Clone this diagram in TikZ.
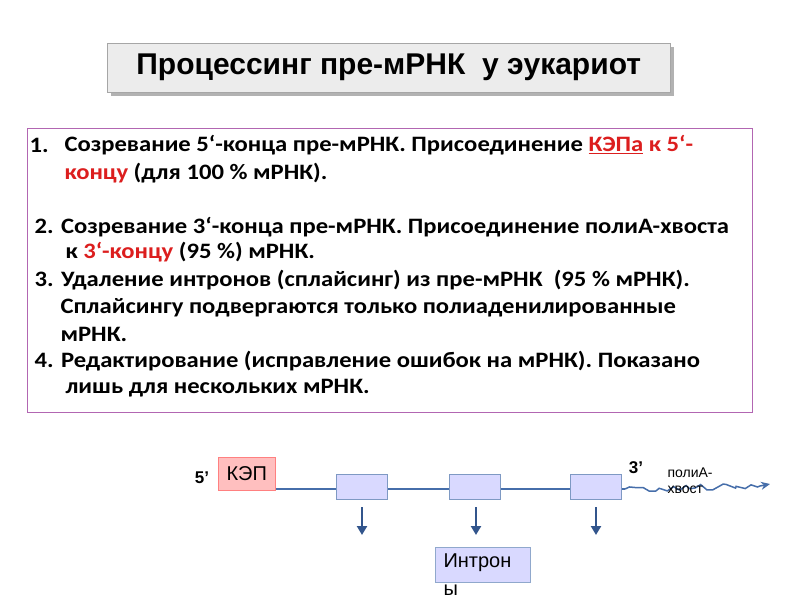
\documentclass[tikz,border=0pt]{standalone}
\usepackage{fontspec}
\setmainfont{Carlito}[FakeStretch=1.12]
\newfontfamily\hsans{Liberation Sans}
\usetikzlibrary{decorations.pathmorphing,arrows.meta}
\definecolor{rd}{RGB}{220,30,30}
\definecolor{bl}{RGB}{70,110,170}
\definecolor{dbl}{RGB}{50,85,140}
\tikzset{
 exon/.style={draw=bl!70,fill=blue!15,minimum width=51pt,minimum height=25pt,inner sep=0},
 dn/.style={dbl,line width=2.6pt,-{Triangle[width=10pt,length=9pt]}},
 ln/.style={anchor=west,font=\fontsize{22}{24}\selectfont\bfseries}
}
\begin{document}
\begin{tikzpicture}[x=1pt,y=-1pt]
\useasboundingbox[fill=white] (0,0) rectangle (800,600);
% title
\fill[gray!60] (111,47) rectangle (674,96);
\node[draw=gray!70,fill=gray!15,minimum width=563pt,minimum height=49pt,anchor=north west,font=\hsans\fontsize{30}{32}\selectfont\bfseries] (title) at (107,43) {Процессинг пре-мРНК\ \ у эукариот};
% text box
\node[draw=violet!60,line width=1.3pt,minimum width=725pt,minimum height=284pt,anchor=north west] (box) at (27,128) {};
\node[ln] (l1a) at (26,145) {1.};
\node[ln] (l1) at (61,145) {Созревание 5‘-конца пре-мРНК. Присоединение \textcolor{rd}{\underline{КЭПа} к 5‘-}};
\node[ln] (l1b) at (61,173) {\textcolor{rd}{концу} (для 100 \% мРНК).};
\node[ln] (l2) at (31,227) {2. Созревание 3‘-конца пре-мРНК. Присоединение полиА-хвоста};
\node[ln] (l2b) at (62,252) {к \textcolor{rd}{3‘-концу} (95 \%) мРНК.};
\node[ln] (l3) at (31,280) {3. Удаление интронов (сплайсинг) из пре-мРНК\ \ (95 \% мРНК).};
\node[ln] (l3b) at (57,308) {Сплайсингу подвергаются только полиаденилированные};
\node[ln] (l3c) at (57,334) {мРНК.};
\node[ln] (l4) at (31,361) {4. Редактирование (исправление ошибок на мРНК). Показано};
\node[ln] (l4b) at (62,388) {лишь для нескольких мРНК.};
% diagram
\coordinate (s) at (275,489);
\coordinate (e) at (625,489);
\draw[bl,line width=2pt] (s) -- (e);
\node[draw=red!50,fill=red!25,minimum width=57pt,minimum height=33pt,inner sep=0,anchor=north west,font=\hsans\fontsize{20}{22}\selectfont] (kep) at (218,457) {КЭП};
\node[exon] (e1) at (362,487) {};
\node[exon] (e2) at (475,487) {};
\node[exon] (e3) at (596,487) {};
\node[font=\hsans\fontsize{17}{18}\selectfont\bfseries] (p5) at (202,478) {5’};
\node[font=\hsans\fontsize{17}{18}\selectfont\bfseries] (p3) at (636,468) {3’};
\coordinate (tailend) at (770,484);
\draw[bl,line width=1.5pt,decorate,decoration={random steps,segment length=6pt,amplitude=3pt}] (e) -- (760,486);
\draw[bl,line width=1.5pt,-{Stealth[length=9pt,width=8pt]}] (760,486) -- (tailend);
\node[anchor=west,font=\hsans\fontsize{14}{15}\selectfont] (pa1) at (664,473) {полиА-};
\node[anchor=west,font=\hsans\fontsize{14}{15}\selectfont] (pa2) at (664,490) {хвост};
\coordinate (a1) at (362,535);\coordinate (a2) at (476,535);\coordinate (a3) at (596,535);
\draw[dn] (362,507) -- (a1);
\draw[dn] (476,507) -- (a2);
\draw[dn] (596,507) -- (a3);
\node[draw=bl!60,fill=blue!15,minimum width=95pt,minimum height=35pt,anchor=north west] (intr) at (435,547) {};
\node[anchor=west,font=\hsans\fontsize{20}{22}\selectfont] (it) at (440,563) {Интрон};
\node[anchor=west,font=\hsans\fontsize{20}{22}\selectfont] (it2) at (440,590) {ы};
\end{tikzpicture}
\end{document}
